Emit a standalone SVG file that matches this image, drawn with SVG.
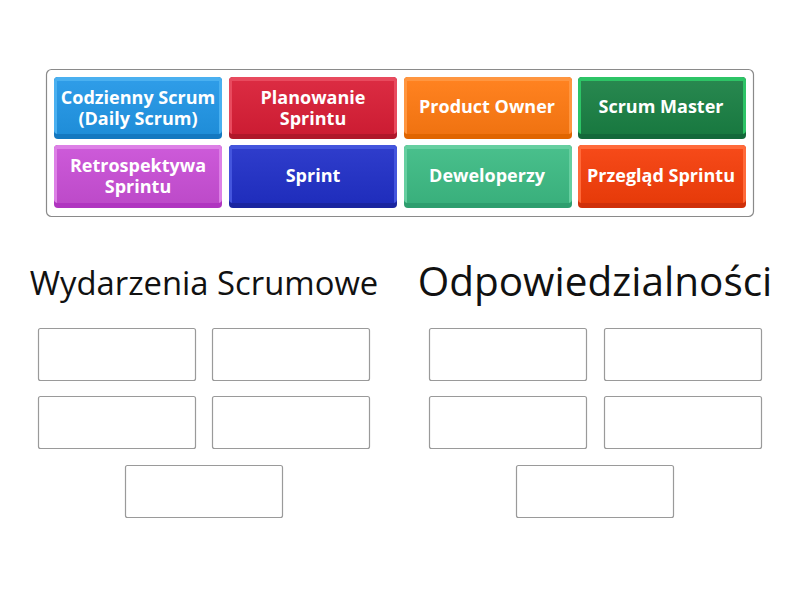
<svg xmlns="http://www.w3.org/2000/svg" width="800" height="600" viewBox="0 0 800 600">
<defs>
<linearGradient id="sheen" x1="0" y1="0" x2="0" y2="1">
<stop offset="0" stop-color="#fff" stop-opacity="0.06"/>
<stop offset="1" stop-color="#000" stop-opacity="0.06"/>
</linearGradient>
</defs>
<style>
.tt{font-family:"Open Sans","Noto Sans",sans-serif;font-weight:700;font-size:18px;fill:#fff;text-anchor:middle}
.hd{font-family:"Open Sans","Noto Sans",sans-serif;fill:#111;text-anchor:middle}
.slot{fill:#fff;stroke:#9a9a9a;stroke-width:1.2}
</style>
<rect width="800" height="600" fill="#fff"/>
<rect x="46.5" y="69.5" width="707" height="147" rx="5" fill="#fff" stroke="#8a8a8a" stroke-width="1.2"/>

<g id="tile-codzienny">
<rect x="54" y="77" width="168" height="62" rx="4" fill="#1478c0"/>
<rect x="54" y="77" width="168" height="57" rx="4" fill="#4ab0f0"/>
<rect x="57" y="81" width="162" height="53" fill="#2196e6"/>
<rect x="57" y="81" width="162" height="53" fill="url(#sheen)"/>
<text class="tt" x="138" y="103.5">Codzienny Scrum</text>
<text class="tt" x="138" y="124.5">(Daily Scrum)</text>
</g>
<g id="tile-planowanie">
<rect x="229" y="77" width="168" height="62" rx="4" fill="#b0172a"/>
<rect x="229" y="77" width="168" height="57" rx="4" fill="#e84a5e"/>
<rect x="232" y="81" width="162" height="53" fill="#d91e36"/>
<rect x="232" y="81" width="162" height="53" fill="url(#sheen)"/>
<text class="tt" x="313" y="103.5">Planowanie</text>
<text class="tt" x="313" y="124.5">Sprintu</text>
</g>
<g id="tile-product-owner">
<rect x="404" y="77" width="168" height="62" rx="4" fill="#e06500"/>
<rect x="404" y="77" width="168" height="57" rx="4" fill="#ff9640"/>
<rect x="407" y="81" width="162" height="53" fill="#ff7a12"/>
<rect x="407" y="81" width="162" height="53" fill="url(#sheen)"/>
<text class="tt" x="487" y="113">Product Owner</text>
</g>
<g id="tile-scrum-master">
<rect x="578" y="77" width="168" height="62" rx="4" fill="#13683a"/>
<rect x="578" y="77" width="168" height="57" rx="4" fill="#2dc466"/>
<rect x="581" y="81" width="162" height="53" fill="#1a8044"/>
<rect x="581" y="81" width="162" height="53" fill="url(#sheen)"/>
<text class="tt" x="661" y="113">Scrum Master</text>
</g>
<g id="tile-retrospektywa">
<rect x="54" y="145" width="168" height="63" rx="4" fill="#b035c0"/>
<rect x="54" y="145" width="168" height="58" rx="4" fill="#dd80e6"/>
<rect x="57" y="149" width="162" height="54" fill="#c94fd6"/>
<rect x="57" y="149" width="162" height="54" fill="url(#sheen)"/>
<text class="tt" x="138" y="171.5">Retrospektywa</text>
<text class="tt" x="138" y="193">Sprintu</text>
</g>
<g id="tile-sprint">
<rect x="229" y="145" width="168" height="63" rx="4" fill="#1a25a0"/>
<rect x="229" y="145" width="168" height="58" rx="4" fill="#4455dd"/>
<rect x="232" y="149" width="162" height="54" fill="#2130c8"/>
<rect x="232" y="149" width="162" height="54" fill="url(#sheen)"/>
<text class="tt" x="313" y="181.5">Sprint</text>
</g>
<g id="tile-deweloperzy">
<rect x="404" y="145" width="168" height="63" rx="4" fill="#2e9e6e"/>
<rect x="404" y="145" width="168" height="58" rx="4" fill="#66cfa0"/>
<rect x="407" y="149" width="162" height="54" fill="#3dbb84"/>
<rect x="407" y="149" width="162" height="54" fill="url(#sheen)"/>
<text class="tt" x="487" y="181.5">Deweloperzy</text>
</g>
<g id="tile-przeglad">
<rect x="578" y="145" width="168" height="63" rx="4" fill="#d0300a"/>
<rect x="578" y="145" width="168" height="58" rx="4" fill="#ff6a3a"/>
<rect x="581" y="149" width="162" height="54" fill="#f53e0a"/>
<rect x="581" y="149" width="162" height="54" fill="url(#sheen)"/>
<text class="tt" x="661" y="181.5">Przegląd Sprintu</text>
</g>

<g id="group-wydarzenia">
<text class="hd" x="204" y="295" font-size="32.8">Wydarzenia Scrumowe</text>
<rect class="slot" x="38.5" y="328.5" width="157" height="52" rx="2"/>
<rect class="slot" x="212.5" y="328.5" width="157" height="52" rx="2"/>
<rect class="slot" x="38.5" y="396.5" width="157" height="52" rx="2"/>
<rect class="slot" x="212.5" y="396.5" width="157" height="52" rx="2"/>
<rect class="slot" x="125.5" y="465.5" width="157" height="52" rx="2"/>
</g>
<g id="group-odpowiedzialnosci">
<text class="hd" x="595" y="296" font-size="40.5">Odpowiedzialności</text>
<rect class="slot" x="429.5" y="328.5" width="157" height="52" rx="2"/>
<rect class="slot" x="604.5" y="328.5" width="157" height="52" rx="2"/>
<rect class="slot" x="429.5" y="396.5" width="157" height="52" rx="2"/>
<rect class="slot" x="604.5" y="396.5" width="157" height="52" rx="2"/>
<rect class="slot" x="516.5" y="465.5" width="157" height="52" rx="2"/>
</g>
<g id="connectors"/>
</svg>
